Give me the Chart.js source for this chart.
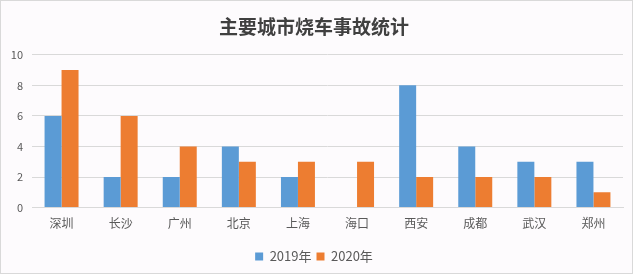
<!DOCTYPE html>
<html>
<head>
<meta charset="utf-8">
<script src="https://cdn.jsdelivr.net/npm/chart.js@4/dist/chart.umd.min.js"></script>
<style>
  html, body { margin: 0; padding: 0; background: #ffffff; }
  #box { width: 631px; height: 272px; border: 1px solid #d9d9d9; background: #fdfbfd; }
</style>
</head>
<body>
<div id="box"><canvas id="chart" width="631" height="272"></canvas></div>
<script>
// 主要城市烧车事故统计
var cities = ['深圳', '长沙', '广州', '北京', '上海', '海口', '西安', '成都', '武汉', '郑州'];
var y2019 = [6, 2, 2, 4, 2, 0, 8, 4, 3, 3];
var y2020 = [9, 6, 4, 3, 3, 3, 2, 2, 2, 1];
var yTicks = [0, 2, 4, 6, 8, 10];

var font = '"Microsoft YaHei", "Noto Sans CJK SC", sans-serif';

var statChart = new Chart(document.getElementById('chart'), {
  type: 'bar',
  data: {
    labels: cities,
    datasets: [{
      label: '2019年',
      data: y2019,
      backgroundColor: '#5b9bd5'
    }, {
      label: '2020年',
      data: y2020,
      backgroundColor: '#ed7d31'
    }]
  },
  options: {
    responsive: false,
    animation: false,
    layout: { padding: { left: 4, right: 9, top: 0, bottom: 0 } },
    datasets: { bar: { categoryPercentage: 0.575, barPercentage: 1 } },
    plugins: {
      title: {
        display: true,
        text: '主要城市烧车事故统计',
        color: '#404040',
        font: { family: font, size: 19, weight: 'bold' },
        padding: { top: 14, bottom: 17 }
      },
      legend: {
        position: 'bottom',
        labels: {
          color: '#595959',
          font: { family: font, size: 13 },
          boxWidth: 8,
          boxHeight: 8,
          padding: 5
        }
      },
      tooltip: { enabled: false }
    },
    scales: {
      x: {
        afterFit: function (axis) { axis.height = axis.height + 5; },
        grid: { display: false, tickLength: 0 },
        border: { color: '#d9d9d9' },
        ticks: { color: '#595959', font: { family: font, size: 12 }, padding: 9 }
      },
      y: {
        min: 0,
        max: 10,
        afterBuildTicks: function (axis) {
          axis.ticks = yTicks.map(function (v) { return { value: v }; });
        },
        afterFit: function (axis) { axis.width = 27; },
        grid: { color: '#d9d9d9', drawTicks: false },
        border: { display: false },
        ticks: { color: '#595959', font: { family: font, size: 11 }, padding: 9 }
      }
    }
  }
});
</script>
</body>
</html>
